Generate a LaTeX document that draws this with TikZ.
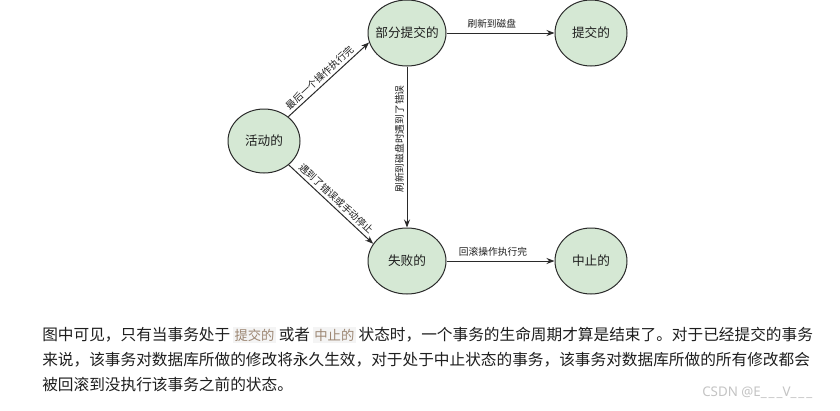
\documentclass[tikz,border=0pt]{standalone}
\usepackage{fontspec}
\setmainfont{Noto Sans CJK SC}
\newfontfamily\wmfont{Noto Sans}
\usetikzlibrary{shapes.geometric,arrows.meta}
\definecolor{nodefill}{HTML}{D5E8D4}
\definecolor{linecol}{HTML}{2A2A2A}
\definecolor{txtcol}{HTML}{1E1E1E}
\definecolor{hlbg}{HTML}{F4F4F4}
\definecolor{hlfg}{HTML}{9C8672}
\definecolor{wmcol}{HTML}{C4C4C4}
\newcommand\hlt[1]{{\setlength\fboxsep{1.2pt}\colorbox{hlbg}{\color{hlfg}\fontsize{10pt}{12pt}\selectfont #1}}}
\begin{document}
\begin{tikzpicture}[x=0.75pt,y=-0.75pt,
  state/.style={ellipse, draw=linecol, fill=nodefill, line width=0.75pt, inner sep=0pt,
     minimum height=49.5pt, font=\fontsize{9.5pt}{11pt}\selectfont, text=txtcol},
  wide/.style={minimum width=58.5pt},
  narrow/.style={minimum width=54pt},
  conn/.style={draw=linecol, line width=0.75pt, -{Stealth[length=6pt,width=4.5pt]}},
  lbl/.style={font=\fontsize{7.3pt}{9pt}\selectfont, text=txtcol, inner sep=2pt},
  para/.style={font=\fontsize{11.75pt}{14pt}\selectfont, text=txtcol, inner sep=0pt, anchor=west}
]
\useasboundingbox (0,0) rectangle (840,411);
\fill[white] (0,0) rectangle (840,411);

\node[state, narrow, minimum height=48pt] (act) at (264,141) {\makebox[0pt]{活动的}};
\node[state, wide] (pc) at (407,33) {\makebox[0pt]{部分提交的}};
\node[state, narrow] (com) at (591,33) {\makebox[0pt]{提交的}};
\node[state, wide] (fail) at (407,261) {\makebox[0pt]{失败的}};
\node[state, narrow] (abo) at (591,261) {\makebox[0pt]{中止的}};

\draw[conn] (act.45) -- node[lbl, sloped, above, pos=0.45] (l-last) {最后一个操作执行完} (pc.194);
\draw[conn] (act.316) -- node[lbl, sloped, above, pos=0.5] (l-err) {遇到了错误或手动停止} (fail.153);
\draw[conn] (pc.south) -- node[lbl, pos=0.45, rotate=90, anchor=south] (l-flusherr) {刷新到磁盘时遇到了错误} (fail.north);
\draw[conn] (pc.east) -- node[lbl, above=1.5pt, pos=0.42] (l-flush) {刷新到磁盘} (com.west);
\draw[conn] (fail.east) -- node[lbl, above=1.5pt, pos=0.43] (l-roll) {回滚操作执行完} (abo.west);

\node[para] (p1) at (42,335) {图中可见，只有当事务处于\hspace{2pt}\hlt{提交的}\hspace{2pt}或者\hspace{2pt}\hlt{中止的}\hspace{2pt}状态时，一个事务的生命周期才算是结束了。对于已经提交的事务};
\node[para] (p2) at (42,360) {来说，该事务对数据库所做的修改将永久生效，对于处于中止状态的事务，该事务对数据库所做的所有修改都会};
\node[para] (p3) at (42,385) {被回滚到没执行该事务之前的状态。};

\node[anchor=west, inner sep=0pt, text=wmcol, font=\wmfont\fontsize{10pt}{12pt}\selectfont] (wm) at (702,393) {CSDN @E{\addfontfeature{LetterSpace=15}\_\_\_}V{\addfontfeature{LetterSpace=15}\_\_\_}};
\end{tikzpicture}
\end{document}
